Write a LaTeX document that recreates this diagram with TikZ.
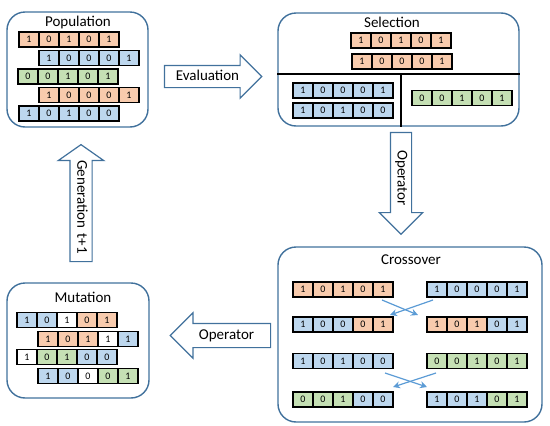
\documentclass[tikz,border=0pt]{standalone}
\usepackage{fontspec}
\setmainfont{Carlito}
\usetikzlibrary{positioning,arrows.meta,shapes.arrows}

\definecolor{frameblue}{RGB}{65,113,156}
\definecolor{swapblue}{RGB}{91,155,213}
\definecolor{orng}{RGB}{248,203,173}
\definecolor{blu}{RGB}{189,215,238}
\definecolor{grn}{RGB}{197,224,180}

% one chromosome: name, left x, centre y, list of colour/bit
\newcommand{\chrom}[4]{%
    \foreach \c/\b [count=\i] in {#4}
        \node[cell, fill=\c] (#1-\i) at ({#2+10+(\i-1)*20}, #3) {\b};
}

\begin{document}
\begin{tikzpicture}[x=1pt, y=-1pt,
    stage/.style={draw=frameblue, line width=1.4pt, rounded corners=18pt, inner sep=0},
    title/.style={font=\fontsize{15}{15}\selectfont},
    cell/.style={draw=black, line width=1.5pt, minimum width=20pt, minimum height=15pt, inner sep=0, font=\fontsize{10}{10}\selectfont},
    bigarrow/.style={single arrow, draw=frameblue, line width=1.2pt, fill=white, inner xsep=0, text height=10pt, text depth=3pt, align=center, font=\fontsize{15}{15}\selectfont, single arrow tip angle=90},
    swap/.style={draw=swapblue, line width=1.2pt, -{Stealth[length=7pt,width=7pt]}}
    ]
        \useasboundingbox (0,0) rectangle (550,426);

        %Stages
        \node[stage, minimum width=141pt, minimum height=115pt] (pop)   at (77.5,69.5)  {};
        \node[stage, minimum width=241pt, minimum height=113pt] (sel)   at (398.5,69.5) {};
        \node[stage, minimum width=264pt, minimum height=175pt] (cross) at (410,334.5)  {};
        \node[stage, minimum width=142pt, minimum height=115pt] (mut)   at (78,340.5)   {};

        \node[title] (poptitle)   at (78,22)   {Population};
        \node[title] (seltitle)   at (392,22)  {Selection};
        \node[title] (crosstitle) at (411,260) {Crossover};
        \node[title] (muttitle)   at (83,297)  {Mutation};

        %Selection split
        \coordinate (selmid) at (401,74);
        \draw[line width=1.4pt] (sel.west |- selmid) -- (sel.east |- selmid);
        \draw[line width=1.4pt] (selmid) -- (selmid |- sel.south);

        %Population
        \chrom{p1}{19}{39.5}{orng/1,orng/0,orng/1,orng/0,orng/1}
        \chrom{p2}{39}{58}{blu/1,blu/0,blu/0,blu/0,blu/1}
        \chrom{p3}{18}{76.5}{grn/0,grn/0,grn/1,grn/0,grn/1}
        \chrom{p4}{39}{95}{orng/1,orng/0,orng/0,orng/0,orng/1}
        \chrom{p5}{19}{113.5}{blu/1,blu/0,blu/1,blu/0,blu/0}

        %Selection
        \chrom{s1}{351}{40.5}{orng/1,orng/0,orng/1,orng/0,orng/1}
        \chrom{s2}{352}{61.5}{orng/1,orng/0,orng/0,orng/0,orng/1}
        \chrom{s3}{293}{90.5}{blu/1,blu/0,blu/0,blu/0,blu/1}
        \chrom{s4}{293}{110.5}{blu/1,blu/0,blu/1,blu/0,blu/0}
        \chrom{s5}{412}{98}{grn/0,grn/0,grn/1,grn/0,grn/1}

        %Crossover
        \chrom{c1}{293}{289.5}{orng/1,orng/0,orng/1,orng/0,orng/1}
        \chrom{c2}{427}{289.5}{blu/1,blu/0,blu/0,blu/0,blu/1}
        \chrom{c3}{293}{324.5}{blu/1,blu/0,blu/0,orng/0,orng/1}
        \chrom{c4}{427}{324.5}{orng/1,orng/0,orng/1,blu/0,blu/1}
        \chrom{c5}{293}{361}{blu/1,blu/0,blu/1,blu/0,blu/0}
        \chrom{c6}{427}{361}{grn/0,grn/0,grn/1,grn/0,grn/1}
        \chrom{c7}{293}{399.5}{grn/0,grn/0,grn/1,blu/0,blu/0}
        \chrom{c8}{427}{399.5}{blu/1,blu/0,blu/1,grn/0,grn/1}

        %Mutation
        \chrom{m1}{17}{320}{blu/1,blu/0,white/1,orng/0,orng/1}
        \chrom{m2}{38}{339}{orng/1,orng/0,orng/1,white/1,blu/1}
        \chrom{m3}{17}{357}{white/1,grn/0,grn/1,blu/0,blu/0}
        \chrom{m4}{38}{376}{blu/1,blu/0,white/0,grn/0,grn/1}

        %Swaps
        \coordinate (x1s) at (382,300); \coordinate (x1e) at (418,315);
        \coordinate (x2s) at (433,300); \coordinate (x2e) at (390,315);
        \coordinate (x3s) at (385,373); \coordinate (x3e) at (427,387);
        \coordinate (x4s) at (436,373); \coordinate (x4e) at (393,387);
        \draw[swap] (x1s) -- (x1e);
        \draw[swap] (x2s) -- (x2e);
        \draw[swap] (x3s) -- (x3e);
        \draw[swap] (x4s) -- (x4e);

        %Big arrows
        \node[bigarrow, text width=85pt, inner ysep=4pt, single arrow head extend=10.5pt]
            (eval)   at (207.5,76.5)  {Evaluation};
        \node[bigarrow, text width=90pt, inner ysep=3.5pt, single arrow head extend=11pt, rotate=-90]
            (opdown) at (401,178) {Operator};
        \node[bigarrow, text width=87pt, inner ysep=5pt, single arrow head extend=10.5pt, shape border rotate=180]
            (opleft) at (226.5,335.5) {Operator};
        \node[bigarrow, text width=108pt, inner ysep=4pt, single arrow head extend=11.5pt, single arrow tip angle=110, rotate=-90, shape border rotate=180]
            (gen)    at (81,207)  {\mbox{Generation t+1}};
    \end{tikzpicture}
\end{document}
